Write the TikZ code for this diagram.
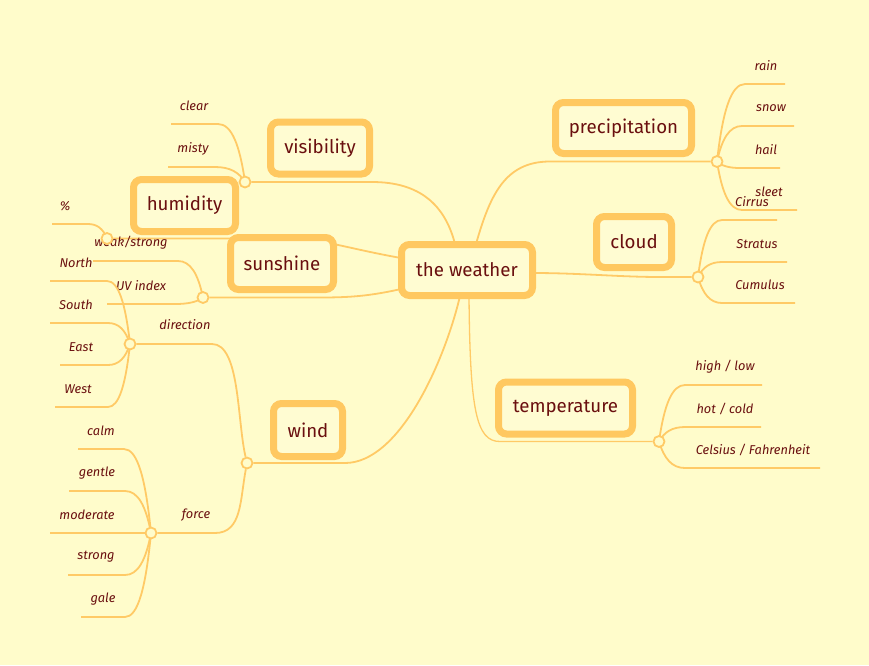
\documentclass[tikz,border=0pt]{standalone}
\usepackage{fontspec}
\setmainfont{Fira Sans}
\usetikzlibrary{calc}
\definecolor{bgc}{HTML}{FFFCCB}
\definecolor{boxc}{HTML}{FFC860}
\definecolor{linec}{HTML}{FFCA66}
\definecolor{txtc}{HTML}{6A0F0F}
\definecolor{boxfill}{HTML}{FFFCD2}
\pgfdeclarelayer{back}
\pgfdeclarelayer{lines}
\pgfsetlayers{back,lines,main}
% #1 circle, #2 x0, #3 y0, #4 line start x, #5 line y, #6 line end x, #7 name, #8 label x, #9 text
\newcommand\lf[9]{%
  \coordinate (#7) at (#6,#5);
  \draw[conn] (#1.center) .. controls ({#2+0.2*(#4-#2)},{#3+0.65*(#5-#3)}) and ({#2+0.5*(#4-#2)},#5) .. (#4,#5) -- (#7);
  \node[lbl] (#7l) at (#8,{#5-18}) {#9};}
\begin{document}
\begin{tikzpicture}[x=1pt,y=-1pt,
  topic/.style={draw=boxc, line width=7pt, rounded corners=8pt, fill=boxfill, text=txtc,
    font=\fontsize{18.7}{21}\selectfont, minimum height=51pt, inner sep=0pt},
  lbl/.style={font=\itshape\fontsize{12.8}{15}\selectfont, text=txtc, inner sep=0pt},
  conn/.style={draw=linec, line width=1.8pt},
  thinconn/.style={draw=linec, line width=1.3pt},
  dot/.style={circle, draw=linec, line width=1.8pt, fill=bgc, minimum size=11pt, inner sep=0pt}]
\useasboundingbox (0,0) rectangle (869,665);
\begin{pgfonlayer}{back}
\fill[bgc] (0,0) rectangle (869,665);
\end{pgfonlayer}

% topics
\node[topic, minimum width=131pt] (weather) at (467,270) {the weather};
\node[topic, minimum width=136pt] (precip) at (623.5,128) {precipitation};
\node[topic, minimum width=75pt] (cloud) at (634,242) {cloud};
\node[topic, minimum width=134pt, minimum height=52pt] (temp) at (565.5,408) {temperature};
\node[topic, minimum width=99pt, minimum height=52pt] (vis) at (320,148) {visibility};
\node[topic, minimum width=102pt, minimum height=52pt] (hum) at (184.5,205.5) {humidity};
\node[topic, minimum width=103pt, minimum height=52pt] (sun) at (282,263.5) {sunshine};
\node[topic, minimum width=69pt, minimum height=53pt] (wind) at (308,430) {wind};

% junction dots
\node[dot] (pc) at (717,161.5) {};
\node[dot] (cc) at (698,277) {};
\node[dot] (tc) at (659,441.5) {};
\node[dot] (vc) at (245,182) {};
\node[dot] (hc) at (107,238.5) {};
\node[dot] (sc) at (203,297.5) {};
\node[dot] (wc) at (247,463) {};
\node[dot] (dc) at (130,344) {};
\node[dot] (fc) at (151,533) {};

\begin{pgfonlayer}{lines}
% main branches
\draw[conn] ($(weather.north)+(9,3)$) .. controls (490,195) and (505,161.5) .. (550,161.5) -- (pc);
\draw[conn] ($(weather.north)+(-12,3)$) .. controls (445,205) and (420,182) .. (372,182) -- (vc);
\draw[conn] ($(weather.west)+(3,-12)$) .. controls (350,249) and (320,238.5) .. (290,238.5) -- (hc);
\draw[conn] ($(weather.west)+(3,19)$) .. controls (370,296) and (350,297.5) .. (320,297.5) -- (sc);
\draw[conn] ($(weather.east)+(-3,3)$) .. controls (580,273) and (620,277) .. (660,277) -- (cc);
\draw[thinconn] ($(weather.south)+(2,-3)$) .. controls (470,410) and (476,441.5) .. (500,441.5) -- (tc);
\draw[conn] ($(weather.south)+(-7,-3)$) .. controls (445,360) and (400,463) .. (345,463) -- (wc);
% wind sub-branches
\draw[conn] (wc) .. controls (237,420) and (240,344) .. (212,344) -- (dc);
\node[lbl] (dirl) at (185,325) {direction};
\draw[conn] (wc) .. controls (240,500) and (242,533) .. (215,533) -- (fc);
\node[lbl] (forl) at (196,515) {force};

% precipitation leaves
\lf{pc}{717}{161.5}{745}{84}{785}{rain}{766}{rain}
\lf{pc}{717}{161.5}{742}{126}{794}{snow}{771}{snow}
\lf{pc}{717}{161.5}{740}{168}{780}{hail}{766}{hail}
\lf{pc}{717}{161.5}{742}{210}{797}{sleet}{769}{sleet}
% cloud leaves
\lf{cc}{698}{277}{722}{220}{777}{cirrus}{752}{Cirrus}
\lf{cc}{698}{277}{722}{262}{787}{stratus}{757}{Stratus}
\lf{cc}{698}{277}{722}{303}{795}{cumulus}{760}{Cumulus}
% temperature leaves
\lf{tc}{659}{441.5}{685}{385}{762}{hilo}{725}{high / low}
\lf{tc}{659}{441.5}{685}{427}{761}{hoco}{725}{hot / cold}
\lf{tc}{659}{441.5}{685}{468}{820}{cefa}{753}{Celsius / Fahrenheit}
% visibility leaves
\begin{scope}[thinconn]
\lf{vc}{245}{182}{218}{124}{171}{clear}{194}{clear}
\lf{vc}{245}{182}{215}{167}{168}{misty}{193}{misty}
\end{scope}
% humidity leaf
\lf{hc}{107}{238.5}{88}{224}{52}{pct}{65}{\%}
% sunshine leaves
\lf{sc}{203}{297.5}{178}{261}{93}{weak}{131}{weak/strong}
\lf{sc}{203}{297.5}{175}{304}{107}{uv}{141}{UV index}
% direction leaves
\lf{dc}{130}{344}{107}{281}{50}{north}{76}{North}
\lf{dc}{130}{344}{108}{323}{50}{south}{76}{South}
\lf{dc}{130}{344}{108}{365}{60}{east}{81}{East}
\lf{dc}{130}{344}{108}{407}{55}{west}{78}{West}
% force leaves
\lf{fc}{151}{533}{124}{449}{78}{calm}{101}{calm}
\lf{fc}{151}{533}{125}{491}{69}{gentle}{97}{gentle}
\lf{fc}{151}{533}{140}{533}{50}{moderate}{87}{moderate}
\lf{fc}{151}{533}{125}{575}{68}{strong}{96}{strong}
\lf{fc}{151}{533}{125}{617}{81}{gale}{103}{gale}
\end{pgfonlayer}
\end{tikzpicture}
\end{document}
